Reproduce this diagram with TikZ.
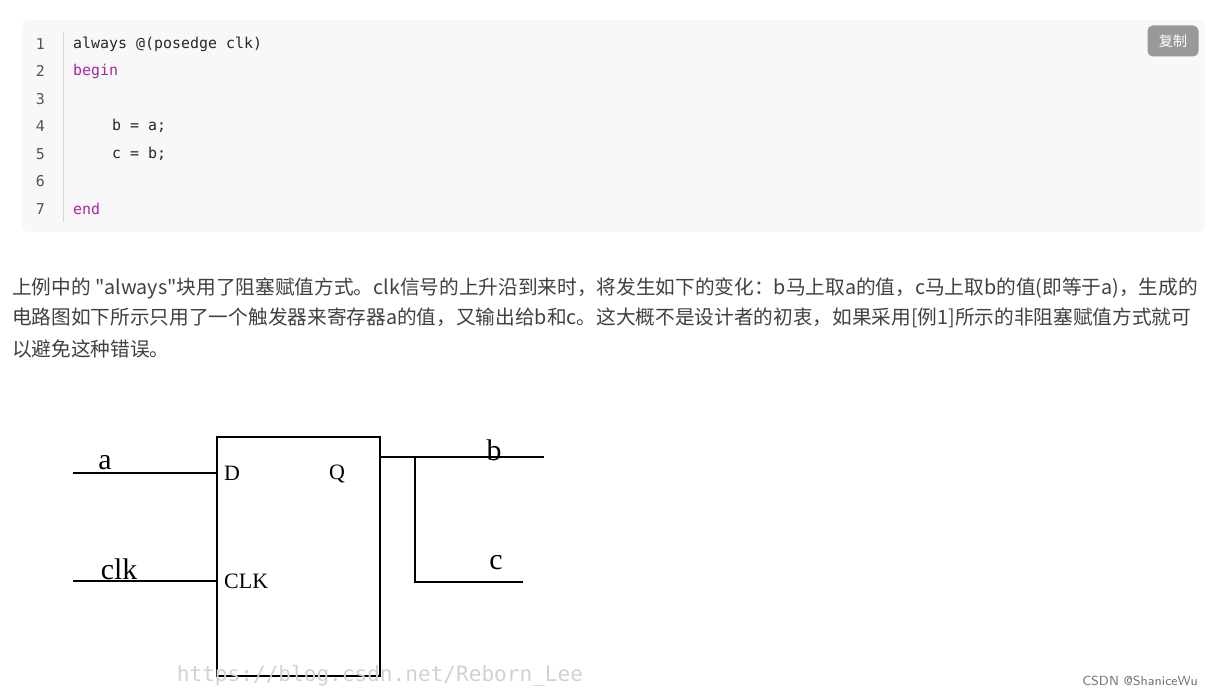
\documentclass[tikz,border=0pt]{standalone}
\usepackage{fontspec}
\setmainfont{Liberation Serif}
\setmonofont{DejaVu Sans Mono}
\newfontfamily\cjk{Noto Sans CJK SC}
\definecolor{codebg}{HTML}{F8F8F8}
\definecolor{kwcolor}{HTML}{A626A4}
\definecolor{numgray}{HTML}{555555}
\definecolor{txtgray}{HTML}{404040}
\begin{document}
\begin{tikzpicture}[x=0.02cm,y=-0.02cm]
    \tikzstyle{linenum} = [anchor=east,font=\ttfamily\fontsize{8.5}{10}\selectfont,text=numgray]
    \tikzstyle{codeline} = [anchor=west,font=\ttfamily\fontsize{8.5}{10}\selectfont,text=black!85]
    \tikzstyle{paraline} = [anchor=west,font=\cjk\fontsize{11.2}{13}\selectfont,text=txtgray]
    \tikzstyle{wire} = [line width=1.2pt]
    \tikzstyle{pinlabel} = [font=\fontsize{12.5}{14}\selectfont]
    \tikzstyle{siglabel} = [font=\fontsize{17}{19}\selectfont]
    \useasboundingbox (0,0) rectangle (1220,696);
    % code block
    \fill[codebg,rounded corners=3pt] (22,20) rectangle (1205,232);
    \draw[black!15] (63,32) -- (63,222);
    \node[linenum] (n1) at (51,44) {1};
    \node[linenum] (n2) at (51,71) {2};
    \node[linenum] (n3) at (51,99) {3};
    \node[linenum] (n4) at (51,126) {4};
    \node[linenum] (n5) at (51,154) {5};
    \node[linenum] (n6) at (51,181) {6};
    \node[linenum] (n7) at (51,209) {7};
    \node[codeline] (c1) at (67,44) {always @(posedge clk)};
    \node[codeline,text=kwcolor] (c2) at (67,71) {begin};
    \node[codeline] (c4) at (106,126) {b = a;};
    \node[codeline] (c5) at (106,154) {c = b;};
    \node[codeline,text=kwcolor] (c7) at (67,209) {end};
    \node[fill=black!40,rounded corners=3pt,text=white,minimum width=51*0.02cm,minimum height=31*0.02cm,
          font=\cjk\fontsize{8}{9}\selectfont] (copy) at (1173,41) {复制};
    % paragraph
    \node[paraline] (p1) at (6,288) {上例中的 "always"块用了阻塞赋值方式。clk信号的上升沿到来时，将发生如下的变化：b马上取a的值，c马上取b的值(即等于a)，生成的};
    \node[paraline] (p2) at (6,318) {电路图如下所示只用了一个触发器来寄存器a的值，又输出给b和c。这大概不是设计者的初衷，如果采用[例1]所示的非阻塞赋值方式就可};
    \node[paraline] (p3) at (6,349) {以避免这种错误。};
    % circuit
    \draw[wire] (217,437) rectangle (380,676);
    \coordinate (ain) at (73,473);
    \coordinate (din) at (217,473);
    \coordinate (clkin) at (73,581);
    \coordinate (ckpin) at (217,581);
    \coordinate (qout) at (380,457);
    \coordinate (bout) at (544,457);
    \coordinate (split) at (415,457);
    \coordinate (bend) at (415,582);
    \coordinate (cout) at (523,582);
    \draw[wire] (ain) -- (din);
    \draw[wire] (clkin) -- (ckpin);
    \draw[wire] (qout) -- (bout);
    \draw[wire] (split) -- (bend) -- (cout);
    \node[siglabel] (la) at (105,463) {a};
    \node[siglabel] (lclk) at (119,569) {clk};
    \node[siglabel] (lb) at (494,450) {b};
    \node[siglabel] (lc) at (496,563) {c};
    \node[pinlabel,anchor=west] (ld) at (218,473) {D};
    \node[pinlabel] (lq) at (337,474) {Q};
    \node[pinlabel,anchor=west] (lck) at (218,581) {CLK};
    \node[font=\ttfamily\fontsize{12}{14}\selectfont,text=black!18] (wm) at (380,676) {https://blog.csdn.net/Reborn\_Lee};
    \node[font=\sffamily\fontsize{7.5}{9}\selectfont,text=black!55] (csdn) at (1140,681) {CSDN @ShaniceWu};
\end{tikzpicture}
\end{document}
